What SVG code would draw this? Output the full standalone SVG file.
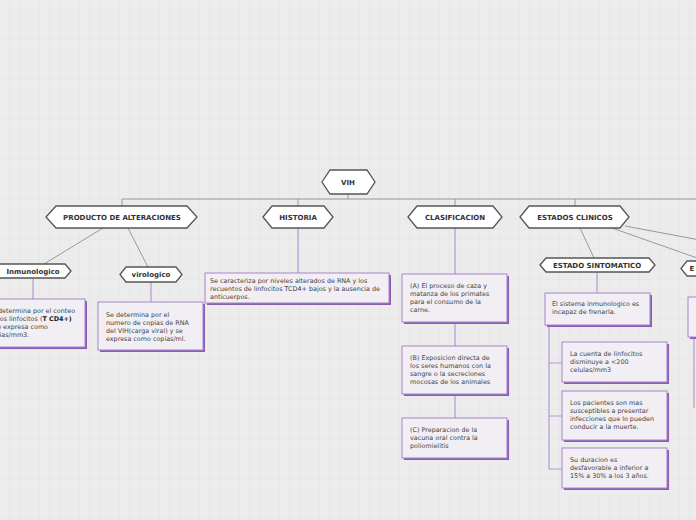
<svg xmlns="http://www.w3.org/2000/svg" width="696" height="520" viewBox="0 0 696 520">
<defs>
<pattern id="g" width="10" height="10" patternUnits="userSpaceOnUse"><path d="M10 0V10H0" fill="none" stroke="#dedede" stroke-width="0.6"/></pattern>
<style>
.h{fill:#fff;stroke:#555;stroke-width:1.3}
.ht{font-family:"DejaVu Sans",sans-serif;font-size:7px;font-weight:bold;fill:#333;text-anchor:middle}
.b{fill:#f1eff3;stroke:#a783c9;stroke-width:1}
.s{fill:#8a5cb5}
.t{font-family:"DejaVu Sans",sans-serif;font-size:6.4px;fill:#444}
.c{fill:none;stroke:#999;stroke-width:1}
.p{fill:none;stroke:#b697d3;stroke-width:1.2}
</style>
</defs>
<rect width="696" height="520" fill="#ececec"/>
<rect width="696" height="520" fill="url(#g)"/>
<g id="connectors">
<path class="c" d="M348 194V199M122 206V199H700M298 199V206M455 199V206M575 199V206"/>
<path class="c" d="M103 228L44 264M128 228L148 267M580 228L594 258M612 228L700 259M625 226L700 240"/>
<path class="p" d="M33 278V299M151 282V302M298 228V273M455 228V274M455 322V346M455 394V418M597 272V293M549 325V469M549 363H562M549 416H562M549 469H562M694 337V408"/>
</g>
<g id="vih"><polygon class="h" points="322,182 330,170 367,170 375,182 367,194 330,194"/><text class="ht" x="348" y="185">VIH</text></g>
<g id="producto"><polygon class="h" points="46,217 56,206 187,206 197,217 187,228 56,228"/><text class="ht" x="122" y="220">PRODUCTO DE ALTERACIONES</text></g>
<g id="historia"><polygon class="h" points="263,217 272,206 324,206 333,217 324,228 272,228"/><text class="ht" x="298" y="220">HISTORIA</text></g>
<g id="clasificacion"><polygon class="h" points="408,217 417,206 493,206 502,217 493,228 417,228"/><text class="ht" x="455" y="220">CLASIFICACION</text></g>
<g id="estados"><polygon class="h" points="520,217 529,206 620,206 629,217 620,228 529,228"/><text class="ht" x="575" y="220">ESTADOS CLINICOS</text></g>
<g id="inmunologico"><polygon class="h" points="-10,271 -3,264 65,264 71,271 65,278 -3,278"/><text class="ht" x="33" y="274">Inmunologico</text></g>
<g id="virologico"><polygon class="h" points="120,274.5 126,267 176,267 182,274.5 176,282 126,282"/><text class="ht" x="151" y="277">virologico</text></g>
<g id="sintomatico"><polygon class="h" points="540,265 546,258 649,258 655,265 649,272 546,272"/><text class="ht" x="597" y="268">ESTADO SINTOMATICO</text></g>
<g id="e2"><polygon class="h" points="681,268.5 687,261 706,261 712,268.5 706,276 687,276"/><text class="ht" x="692" y="271">E</text></g>
<g id="box-inmuno"><rect class="s" x="-38" y="301" width="125" height="48"/><rect class="b" x="-40" y="299" width="125" height="48"/><text class="t"><tspan x="-12" y="313">Se determina por el conteo</tspan><tspan x="-12" y="321">de los linfocitos (<tspan font-weight="bold" fill="#222">T CD4+)</tspan></tspan><tspan x="-12" y="329">y se expresa como</tspan><tspan x="-12" y="337">copias/mm3.</tspan></text></g>
<g id="box-viro"><rect class="s" x="100" y="304" width="105" height="48"/><rect class="b" x="98" y="302" width="105" height="48"/><text class="t"><tspan x="106" y="317">Se determina por el</tspan><tspan x="106" y="325">numero de copias de RNA</tspan><tspan x="106" y="333">del VIH(carga viral) y se</tspan><tspan x="106" y="341">expresa como copias/ml.</tspan></text></g>
<g id="box-historia"><rect class="s" x="207" y="275" width="184" height="30"/><rect class="b" x="205" y="273" width="184" height="30"/><text class="t"><tspan x="210" y="283">Se caracteriza por niveles alterados de RNA y los</tspan><tspan x="210" y="291">recuentos de linfocitos TCD4+ bajos y la ausencia de</tspan><tspan x="210" y="299">anticuerpos.</tspan></text></g>
<g id="box-a"><rect class="s" x="404" y="276" width="105" height="48"/><rect class="b" x="402" y="274" width="105" height="48"/><text class="t"><tspan x="410" y="288">(A) El proceso de caza y</tspan><tspan x="410" y="296">matanza de los primates</tspan><tspan x="410" y="304">para el consumo de la</tspan><tspan x="410" y="312">carne.</tspan></text></g>
<g id="box-b"><rect class="s" x="404" y="348" width="105" height="48"/><rect class="b" x="402" y="346" width="105" height="48"/><text class="t"><tspan x="410" y="360">(B) Exposicion directa de</tspan><tspan x="410" y="368">los seres humanos con la</tspan><tspan x="410" y="376">sangre o la secreciones</tspan><tspan x="410" y="384">mocosas de los animales</tspan></text></g>
<g id="box-c"><rect class="s" x="404" y="420" width="105" height="40"/><rect class="b" x="402" y="418" width="105" height="40"/><text class="t"><tspan x="410" y="432">(C) Preparacion de la</tspan><tspan x="410" y="440">vacuna oral contra la</tspan><tspan x="410" y="448">poliomielitis</tspan></text></g>
<g id="box-s"><rect class="s" x="547" y="295" width="105" height="32"/><rect class="b" x="545" y="293" width="105" height="32"/><text class="t"><tspan x="552" y="306">El sistema inmunologico es</tspan><tspan x="552" y="314">incapaz de frenarla.</tspan></text></g>
<g id="box-s1"><rect class="s" x="564" y="344" width="105" height="40"/><rect class="b" x="562" y="342" width="105" height="40"/><text class="t"><tspan x="570" y="356">La cuenta de linfocitos</tspan><tspan x="570" y="364">disminuye a &lt;200</tspan><tspan x="570" y="372">celulas/mm3</tspan></text></g>
<g id="box-s2"><rect class="s" x="564" y="393" width="105" height="49"/><rect class="b" x="562" y="391" width="105" height="49"/><text class="t"><tspan x="570" y="405">Los pacientes son mas</tspan><tspan x="570" y="413">susceptibles a presentar</tspan><tspan x="570" y="421">infecciones que lo pueden</tspan><tspan x="570" y="429">conducir a la muerte.</tspan></text></g>
<g id="box-s3"><rect class="s" x="564" y="450" width="105" height="40"/><rect class="b" x="562" y="448" width="105" height="40"/><text class="t"><tspan x="570" y="462">Su duracion es</tspan><tspan x="570" y="470">desfavorable a inferior a</tspan><tspan x="570" y="478">15% a 30% a los 3 años.</tspan></text></g>
<g id="box-r"><rect class="s" x="690" y="299" width="30" height="40"/><rect class="b" x="688" y="297" width="30" height="40"/></g>
</svg>
